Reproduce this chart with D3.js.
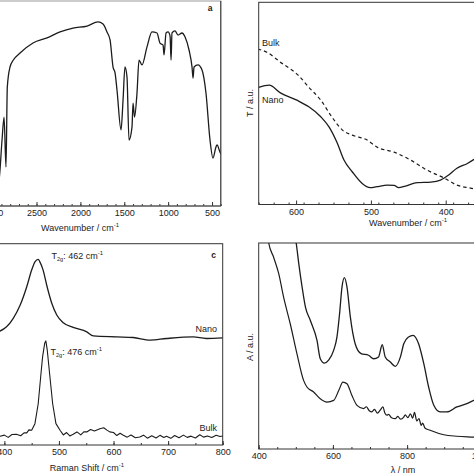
<!DOCTYPE html>
<html>
<head>
<meta charset="utf-8">
<script src="https://cdn.jsdelivr.net/npm/d3@7"></script>
<style>
  html, body { margin: 0; padding: 0; background: #fff; }
  svg { display: block; font-family: "Liberation Sans", Arial, sans-serif; }
  .axis text { font-size: 9px; fill: #222; }
  .axis line, .axis path { stroke: #333; }
</style>
</head>
<body>
<div id="chart"></div>
<script>
// ---- data ----
// (a) FTIR, wavenumber vs transmittance (a.u.)
const ftir = [
  [2960, 56.6], [2935, 10.2], [2893, 32.2], [2870, 43.4], [2848, 19.0], [2833, 58.0],
  [2802, 67.8], [2764, 71.2], [2688, 74.6], [2540, 79.5], [2380, 82.0], [2232, 84.9],
  [2084, 86.8], [1924, 87.8], [1799, 89.8], [1742, 88.8], [1697, 84.9], [1662, 81.0],
  [1628, 67.8], [1605, 64.9], [1583, 56.6], [1537, 37.1], [1514, 51.7], [1492, 67.8],
  [1469, 62.9], [1446, 32.2], [1412, 38.5], [1400, 50.2], [1383, 43.4], [1355, 55.1],
  [1332, 71.2], [1298, 68.8], [1241, 77.6], [1184, 84.9], [1127, 84.4], [1093, 79.5],
  [1058, 78.5], [1047, 73.7], [1024, 84.4], [1001, 84.9], [978, 82.9], [967, 71.2],
  [956, 84.4], [922, 85.4], [887, 83.4], [842, 84.4], [807, 82.4], [762, 76.1],
  [728, 67.8], [716, 62.4], [705, 67.8], [660, 68.8], [614, 66.3], [569, 55.1],
  [523, 32.2], [489, 23.4], [455, 28.8], [443, 29.8], [409, 26.3], [397, 25.4]
];
// (b) far-IR, wavenumber vs T
const farIrBulk = [
  [650, 76.8], [639, 75.3], [621, 70.4], [596, 63.5], [583, 58.0], [567, 51.6],
  [552, 43.2], [538, 36.8], [525, 34.3], [505, 31.9], [492, 28.4], [469, 25.9],
  [447, 22.0], [425, 17.0], [402, 13.1], [385, 9.6], [367, 8.1], [355, 7.2]
];
const farIrNano = [
  [650, 57.9], [636, 59.0], [621, 55.2], [599, 51.6], [583, 48.3], [567, 43.4],
  [556, 38.4], [545, 30.4], [536, 22.0], [525, 16.2], [512, 10.5], [501, 8.3],
  [492, 8.8], [478, 9.6], [469, 9.5], [463, 8.3], [454, 9.1], [438, 10.8],
  [420, 11.1], [407, 12.1], [396, 14.6], [385, 17.9], [371, 20.3], [362, 22.3], [355, 24.0]
];
// (c) Raman shift vs intensity
const ramanNano = [
  [380, 55.8], [392, 56.6], [404, 58.7], [416, 62.8], [429, 69.5], [441, 78.6],
  [450, 86.9], [456, 91.0], [462, 92.2], [465, 91.0], [471, 86.9], [477.5, 79.5],
  [487, 70.3], [496, 64.6], [508, 60.7], [526, 58.4], [551, 56.2], [563, 54.2],
  [606, 53.7], [636, 53.4], [667, 52.1], [697, 52.9], [746, 53.7], [770, 52.9], [800, 53.2]
];
const ramanBulk = [
  [380, 4.0], [392, 4.3], [400, 4.9], [407, 3.8], [414, 5.2], [422, 5.3], [430, 4.6],
  [436, 6.0], [441, 6.0], [445, 7.5], [450, 7.3], [456, 10.6], [462, 20.5], [466.5, 33.8],
  [470, 43.8], [474, 50.7], [476, 51.7], [478.6, 47.1], [483.5, 33.8], [488.5, 20.5],
  [494.5, 10.6], [502, 7.3], [508, 5.0], [514, 6.2], [520, 4.5], [526, 5.3], [533, 6.5],
  [540, 5.0], [546, 6.6], [551, 6.5], [558, 7.7], [565, 7.0], [575, 8.1], [582, 8.6],
  [588, 7.4], [593, 6.5], [600, 6.2], [606, 4.7], [612, 5.8], [618, 4.8], [625, 3.9],
  [632, 5.0], [640, 3.6], [648, 4.0], [655, 4.9], [662, 3.4], [670, 4.6], [678, 3.5],
  [685, 4.8], [692, 3.7], [697, 4.3], [705, 3.3], [712, 4.7], [720, 3.6], [728, 4.9],
  [735, 3.8], [742, 4.4], [750, 3.5], [758, 5.1], [765, 3.9], [772, 4.5], [780, 3.7],
  [788, 4.8], [795, 4.2], [800, 4.5]
];
// (d) UV-vis, wavelength vs absorbance
const uvUpper = [
  [495, 106], [501, 100], [508, 90.0], [517, 78.6], [526, 68.9], [539, 62.5], [557, 52.8],
  [566, 43.8], [577, 41.7], [589, 43.3], [602, 47.9], [611, 54.4], [618, 65.7], [624.5, 78.6],
  [631, 83.2], [638, 78.6], [647, 64.1], [660, 51.1], [676, 46.3], [696, 45.5], [710, 43.8],
  [723, 44.7], [733, 50.6], [741, 44.7], [755, 42.2], [768, 40.1], [782, 44.7], [791, 51.1],
  [804, 54.4], [816, 55.2], [831, 51.1], [845, 41.4], [858, 30.1], [872, 21.2], [889, 18.0],
  [907, 18.0], [934, 20.4], [961, 22.0], [980, 23.6], [1000, 25.2]
];
const uvLower = [
  [425, 102.4], [427, 100], [440, 93.2], [454, 85.1], [467, 73.8], [485, 60.8], [503, 46.3],
  [521, 33.3], [530, 30.1], [548, 27.7], [566, 24.4], [584, 22.8], [602, 23.6], [616, 28.5],
  [627, 32.5], [638, 31.7], [651, 26.1], [665, 21.2], [683, 19.6], [690, 20.5], [698, 18.6],
  [705, 18.0], [712, 19.2], [720, 17.4], [728, 19.0], [735, 20.5], [740, 17.5], [746, 16.4],
  [750, 16.8], [758, 15.2], [768, 14.7], [775, 15.8], [782, 14.5], [791, 15.5], [795, 16.6],
  [802, 15.2], [809, 17.1], [815, 15.0], [820, 17.8], [826, 13.6], [832, 14.8], [838, 11.5],
  [842, 12.6], [848, 10.2], [862, 9.1], [899, 6.9], [934, 6.2], [980, 5.8], [1000, 5.6]
];

const ticksA = [500, 1000, 1500, 2000, 2500, 3000, 3500];
const ticksB = [400, 500, 600];
const ticksC = [200, 300, 400, 500, 600, 700, 800];
const ticksD = [400, 600, 800, 1000];

const W = 474, H = 474;
const svg = d3.select('#chart').append('svg')
  .attr('width', W).attr('height', H);

const INK = '#1c1c1c';
const defs = svg.append('defs');
let clipId = 0;

function panel(p) {
  const x = d3.scaleLinear().domain(p.xDomain).range([p.left, p.right]);
  const y = d3.scaleLinear().domain([0, 100]).range([p.bottom, p.top]);
  const g = svg.append('g');

  const id = 'clip' + (clipId++);
  defs.append('clipPath').attr('id', id).append('rect')
    .attr('x', p.left).attr('y', p.top)
    .attr('width', p.right - p.left).attr('height', p.bottom - p.top);

  // minor ticks
  const dir = Math.sign(p.xDomain[1] - p.xDomain[0]);
  const minor = d3.range(p.xDomain[0], p.xDomain[1] + dir * 1e-6, p.minorStep * dir);
  g.append('g').attr('class', 'axis')
    .attr('transform', `translate(0,${p.bottom})`)
    .call(d3.axisBottom(x).tickValues(minor).tickSize(-2).tickSizeOuter(0).tickFormat(''))
    .call(s => s.select('.domain').remove());
  // major ticks
  g.append('g').attr('class', 'axis')
    .attr('transform', `translate(0,${p.bottom})`)
    .call(d3.axisBottom(x).tickValues(p.ticks).tickSize(-4).tickSizeOuter(0).tickPadding(4).tickFormat(d3.format('d')))
    .call(s => s.select('.domain').remove());

  // frame
  g.append('rect')
    .attr('x', p.left).attr('y', p.top)
    .attr('width', p.right - p.left).attr('height', p.bottom - p.top)
    .attr('fill', 'none').attr('stroke', p.frameColor || '#333').attr('stroke-width', 1);

  const plot = g.append('g').attr('clip-path', `url(#${id})`);
  p.series.forEach(s => {
    const line = d3.line().x(d => x(d[0])).y(d => y(d[1]))
      .curve(s.jagged ? d3.curveLinear : d3.curveMonotoneX);
    plot.append('path')
      .datum(s.data.slice().sort((a, b) => a[0] - b[0]))
      .attr('d', line)
      .attr('fill', 'none')
      .attr('stroke', INK)
      .attr('stroke-width', s.width || 1.3)
      .attr('stroke-dasharray', s.dash || null)
      .attr('stroke-linejoin', 'round');
  });
  return { g, x, y };
}

function label(g, xPos, yPos, parts, opts = {}) {
  const t = g.append('text')
    .attr('x', xPos).attr('y', yPos)
    .attr('text-anchor', opts.anchor || 'start')
    .style('font-size', (opts.size || 9) + 'px')
    .style('font-weight', opts.bold ? 'bold' : 'normal')
    .style('fill', '#222');
  if (opts.rotate) t.attr('transform', `rotate(-90,${xPos},${yPos})`);
  parts.forEach(pt => {
    const s = t.append('tspan').text(pt.t);
    if (pt.sup) s.style('font-size', '6px').attr('dy', -4);
    if (pt.sub) s.style('font-size', '5.5px').attr('dy', 2);
    if (pt.reset) s.attr('dy', pt.reset);
  });
  return t;
}

// ---- (a) ----
const A = panel({
  xDomain: [4000, 400], left: -95.1, right: 220.8, top: 1, bottom: 206,
  ticks: ticksA, minorStep: 100, frameColor: '#999',
  series: [{ data: ftir, width: 1.3 }]
});
A.g.append('line').attr('x1', 220.8).attr('x2', 220.8).attr('y1', 1).attr('y2', 206).attr('stroke', '#333');
A.g.append('line').attr('x1', -95).attr('x2', 220.8).attr('y1', 206).attr('y2', 206).attr('stroke', '#333');
label(A.g, 80, 231, [{ t: 'Wavenumber / cm' }, { t: '-1', sup: true }], { anchor: 'middle' });
label(A.g, 210, 10.5, [{ t: 'a' }], { anchor: 'middle', bold: true, size: 8.5 });

// ---- (b) ----
const B = panel({
  xDomain: [650, 350], left: 258.7, right: 483.1, top: 2.3, bottom: 204.5,
  ticks: ticksB, minorStep: 20,
  series: [{ data: farIrBulk, dash: '3.5,3', width: 1.2 }, { data: farIrNano, width: 1.3 }]
});
label(B.g, 408, 226, [{ t: 'Wavenumber / cm' }, { t: '-1', sup: true }], { anchor: 'middle' });
label(B.g, 253, 103, [{ t: 'T / a.u.' }], { anchor: 'middle', rotate: true });
label(B.g, 262, 46, [{ t: 'Bulk' }]);
label(B.g, 262, 103, [{ t: 'Nano' }]);

// ---- (c) ----
const Cp = panel({
  xDomain: [200, 800], left: -104.8, right: 222.7, top: 243.7, bottom: 445,
  ticks: ticksC, minorStep: 50,
  series: [{ data: ramanNano, width: 1.3 }, { data: ramanBulk, width: 1.1, jagged: true }]
});
label(Cp.g, 87, 471, [{ t: 'Raman Shift / cm' }, { t: '-1', sup: true }], { anchor: 'middle' });
label(Cp.g, 213.5, 257.5, [{ t: 'c' }], { anchor: 'middle', bold: true, size: 8.5 });
label(Cp.g, 217, 332, [{ t: 'Nano' }], { anchor: 'end' });
label(Cp.g, 217, 431, [{ t: 'Bulk' }], { anchor: 'end' });
label(Cp.g, 51.5, 259, [{ t: 'T' }, { t: '2g', sub: true }, { t: ': 462 cm', reset: -2 }, { t: '-1', sup: true }]);
label(Cp.g, 50.5, 355, [{ t: 'T' }, { t: '2g', sub: true }, { t: ': 476 cm', reset: -2 }, { t: '-1', sup: true }]);

// ---- (d) ----
const D = panel({
  xDomain: [400, 1000], left: 258.7, right: 481.3, top: 243, bottom: 449,
  ticks: ticksD, minorStep: 50,
  series: [{ data: uvUpper, width: 1.3 }, { data: uvLower, width: 1.2 }]
});
label(D.g, 403, 473, [{ t: 'λ / nm' }], { anchor: 'middle' });
label(D.g, 253, 347, [{ t: 'A / a.u.' }], { anchor: 'middle', rotate: true });
</script>
</body>
</html>
